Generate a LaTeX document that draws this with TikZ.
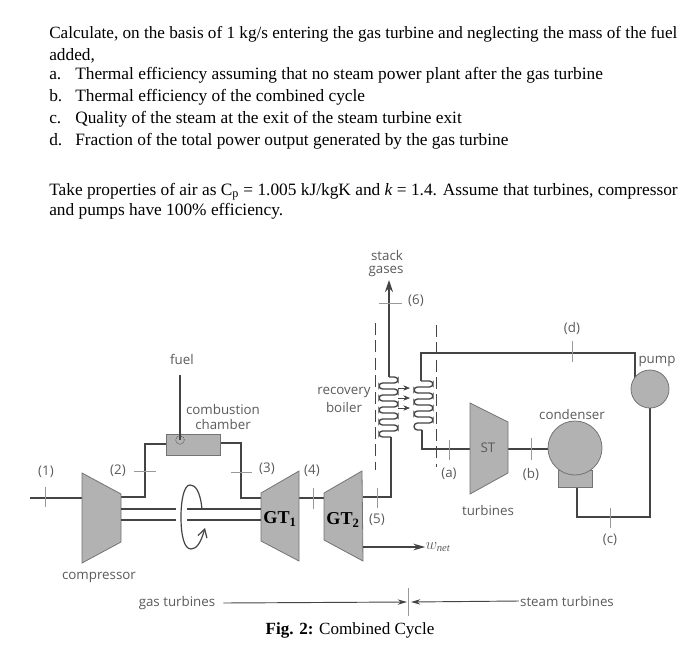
\documentclass[tikz,border=0pt]{standalone}
\usepackage{fontspec}
\setmainfont{Liberation Serif}
\newfontfamily\dfont{Open Sans}
\usetikzlibrary{arrows.meta}
\definecolor{ink}{HTML}{444444}
\definecolor{lab}{HTML}{5A5A5A}
\definecolor{mach}{HTML}{B2B2B2}
\tikzset{
 x=0.75pt,y=-0.75pt,
 pipe/.style={draw=ink,line width=1.1pt,line join=miter},
 tick/.style={draw=gray!80,line width=0.5pt},
 machine/.style={draw=gray!90!black,fill=mach,line width=0.6pt},
 lbl/.style={font=\dfont\fontsize{10pt}{12pt}\selectfont,text=lab,inner sep=0pt},
 body/.style={font=\fontsize{13pt}{15pt}\selectfont,anchor=base west,inner sep=0pt,text=black},
 gt/.style={font=\bfseries\fontsize{13.6pt}{16pt}\selectfont,inner sep=0pt},
 dashy/.style={draw=ink,line width=0.7pt,dash pattern=on 9pt off 4pt},
 thin arrow/.style={draw=ink,line width=0.7pt,-{Stealth[length=7pt,width=4pt]}},
 coil/.style={draw=ink,line width=1pt,rounded corners=2.6pt},
}
\begin{document}
\begin{tikzpicture}
\useasboundingbox (0,0) rectangle (700,647);
% text block
\node[body,font=\fontsize{12.87pt}{15pt}\selectfont] (t1) at (49,38) {Calculate, on the basis of 1 kg/s entering the gas turbine and neglecting the mass of the fuel};
\node[body] (t2) at (49,60) {added,};
\node[body] (t3a) at (49,79) {a.};
\node[body] (t3) at (75,79) {Thermal efficiency assuming that no steam power plant after the gas turbine};
\node[body] (t4a) at (49,101) {b.};
\node[body] (t4) at (75,101) {Thermal efficiency of the combined cycle};
\node[body] (t5a) at (49,123) {c.};
\node[body] (t5) at (75,123) {Quality of the steam at the exit of the steam turbine exit};
\node[body] (t6a) at (49,145) {d.};
\node[body] (t6) at (75,145) {Fraction of the total power output generated by the gas turbine};
\node[body] (t7) at (49,195) {Take properties of air as C\textsubscript{p} = 1.005 kJ/kgK and \textit{k} = 1.4. Assume that turbines, compressor};
\node[body] (t8) at (49,215) {and pumps have 100\% efficiency.};
% coordinates
\coordinate (in) at (30,498);
\coordinate (cOut) at (121,497);
\coordinate (ccL) at (166,444);
\coordinate (ccR) at (220,443);
\coordinate (gt1In) at (261,498);
\coordinate (gt1Out) at (299,498);
\coordinate (gt2In) at (324,498);
\coordinate (gt2Out) at (363,497);
\coordinate (hotB) at (391,437);
\coordinate (hotT) at (389,377);
\coordinate (stack) at (389,280);
\coordinate (coldT) at (421,381);
\coordinate (coldB) at (422,430);
\coordinate (stIn) at (470,449);
\coordinate (stOut) at (508,449);
\coordinate (cndIn) at (548,449);
\coordinate (hwOut) at (577,487);
\coordinate (pumpIn) at (635,378);
\coordinate (pumpOut) at (650,407);
\coordinate (fuelT) at (180,375);
\coordinate (fuelB) at (180,440);
% dashed boundaries
\draw[dashy] (375,323) -- (375,470);
\draw[dashy] (436,325) -- (436,467);
% pipes
\draw[pipe] (in) -- (82,498);
\draw[pipe] (cOut) -- (145,497) -- (145,444) -- (ccL);
\draw[pipe] (ccR) -- (241,443) -- (241,498) -- (gt1In);
\draw[pipe] (gt1Out) -- (gt2In);
\draw[pipe] (gt2Out) -- (391,497) -- (hotB);
\draw[pipe,-{Stealth[length=9pt,width=6pt]}] (hotT) -- (stack);
% hot coil
\draw[coil]
 (hotT) -- (398,377) -- (398,383) -- (379,383) -- (379,389) -- (398,389) -- (398,395) -- (379,395) -- (379,401) -- (398,401) -- (398,407) -- (379,407) -- (379,413) -- (398,413) -- (398,419) -- (379,419) -- (379,425) -- (398,425) -- (398,431) -- (379,431) -- (379,437) -- (hotB);
% cold coil
\draw[coil]
 (coldT) -- (433,381) -- (433,387) -- (414,387) -- (414,393) -- (433,393) -- (433,399) -- (414,399) -- (414,405) -- (433,405) -- (433,411) -- (414,411) -- (414,417) -- (433,417) -- (433,423) -- (414,423) -- (414,430) -- (coldB);
\foreach \yy in {388,398,408}
  \draw[draw=ink,line width=0.5pt,-{Stealth[length=5pt,width=4pt]}] (398,\yy) -- (410,\yy);
% steam loop
\draw[pipe] (coldT) -- (421,353) -- (635,353) -- (pumpIn);
\draw[pipe] (coldB) -- (422,449) -- (stIn);
\draw[pipe] (stOut) -- (cndIn);
\draw[pipe] (hwOut) -- (577,517) -- (650,517) -- (pumpOut);
% machines
\draw[machine] (82,473) -- (121,494) -- (121,542) -- (82,563) -- cycle;
\draw[machine] (261,493) -- (299,471) -- (299,561) -- (261,541) -- cycle;
\draw[machine] (324,493) -- (362,471) -- (363,561) -- (324,540) -- cycle;
\draw[machine] (470,403) -- (508,422) -- (508,473) -- (470,494) -- cycle;
\draw[machine] (166,434) rectangle (220,455);
\draw[machine] (558,470) rectangle (592,487);
\node[machine,circle,minimum size=40.5pt,inner sep=0pt] (cnd) at (575,448) {};
\node[machine,circle,minimum size=28.5pt,inner sep=0pt] (pmp) at (650,389) {};
% fuel and burner
\draw[pipe] (fuelT) -- (fuelB);
\draw[draw=ink,line width=0.6pt,densely dotted] (fuelB) circle [radius=3.2pt];
% shaft
\draw[pipe,line width=0.9pt] (121,509) -- (176,509);
\draw[pipe,line width=0.9pt] (121,520) -- (176,520);
\draw[pipe,line width=0.9pt] (187,509) -- (261,509);
\draw[pipe,line width=0.9pt] (187,520) -- (261,520);
\draw[draw=ink,line width=0.9pt,-{Straight Barb[length=6pt,width=7pt]}] (202,509) .. controls (200,490) and (195,485) .. (190,485) .. controls (184,485) and (181,500) .. (181,517) .. controls (181,535) and (184,549) .. (191,549) .. controls (197,549) and (201,542) .. (205,528);
% ticks
\draw[tick] (45,487) -- (45,507);
\draw[tick] (134,471) -- (156,471);
\draw[tick] (231,472) -- (252,472);
\draw[tick] (313,488) -- (313,509);
\draw[tick] (377,488) -- (377,508);
\draw[tick] (379,303) -- (402,303);
\draw[tick] (449,440) -- (449,460);
\draw[tick] (531,438) -- (531,460);
\draw[tick] (572,341) -- (572,362);
\draw[tick] (610,508) -- (610,528);
% labels
\node[lbl] (l1) at (46,472) {(1)};
\node[lbl] (l2) at (118,471) {(2)};
\node[lbl] (l3) at (267,469) {(3)};
\node[lbl] (l4) at (312,471) {(4)};
\node[lbl] (l5) at (377,520) {(5)};
\node[lbl] (l6) at (416,301) {(6)};
\node[lbl] (la) at (449,474) {(a)};
\node[lbl] (lb) at (531,474) {(b)};
\node[lbl] (lc) at (610,540) {(c)};
\node[lbl] (ld) at (572,328) {(d)};
\node[lbl] (lfuel) at (182,359) {fuel};
\node[lbl] (lcc1) at (223,409) {combustion};
\node[lbl] (lcc2) at (223,424) {chamber};
\node[lbl] (lrb1) at (344,392) {recovery};
\node[lbl] (lrb2) at (344,407) {boiler};
\node[lbl] (ls1) at (387,255) {stack};
\node[lbl] (ls2) at (386,271) {gases};
\node[lbl] (lcomp) at (99,577) {compressor};
\node[lbl] (lgt) at (177,603) {gas turbines};
\node[lbl] (lst) at (567,601) {steam turbines};
\node[lbl] (lt) at (488,510) {turbines};
\node[lbl] (lcnd) at (572,414) {condenser};
\node[lbl] (lp) at (657,361) {pump};
\node[lbl] (lstx) at (488,448) {ST};
\node[gt] (g1) at (280,519) {GT\textsubscript{1}};
\node[gt] (g2) at (343,520) {GT\textsubscript{2}};
\node[font=\fontsize{12pt}{14pt}\selectfont\itshape,text=lab,inner sep=0pt] (wn) at (438,547) {$w_{\mathit{net}}$};
\draw[pipe,-{Stealth[length=9pt,width=5pt]}] (gt2Out |- wn) -- (wn.west);
% bottom
\coordinate (mid) at (407,602);
\draw[thin arrow] (lgt.east) ++(8,0) -- (mid);
\draw[thin arrow] (lst.west) ++(-1,0) -- (411,602);
\draw[tick] (408,588) -- (408,616);
\node[font=\fontsize{12.8pt}{15pt}\selectfont,inner sep=0pt] (cap) at (350,630) {\textbf{Fig. 2:} Combined Cycle};
\end{tikzpicture}
\end{document}
